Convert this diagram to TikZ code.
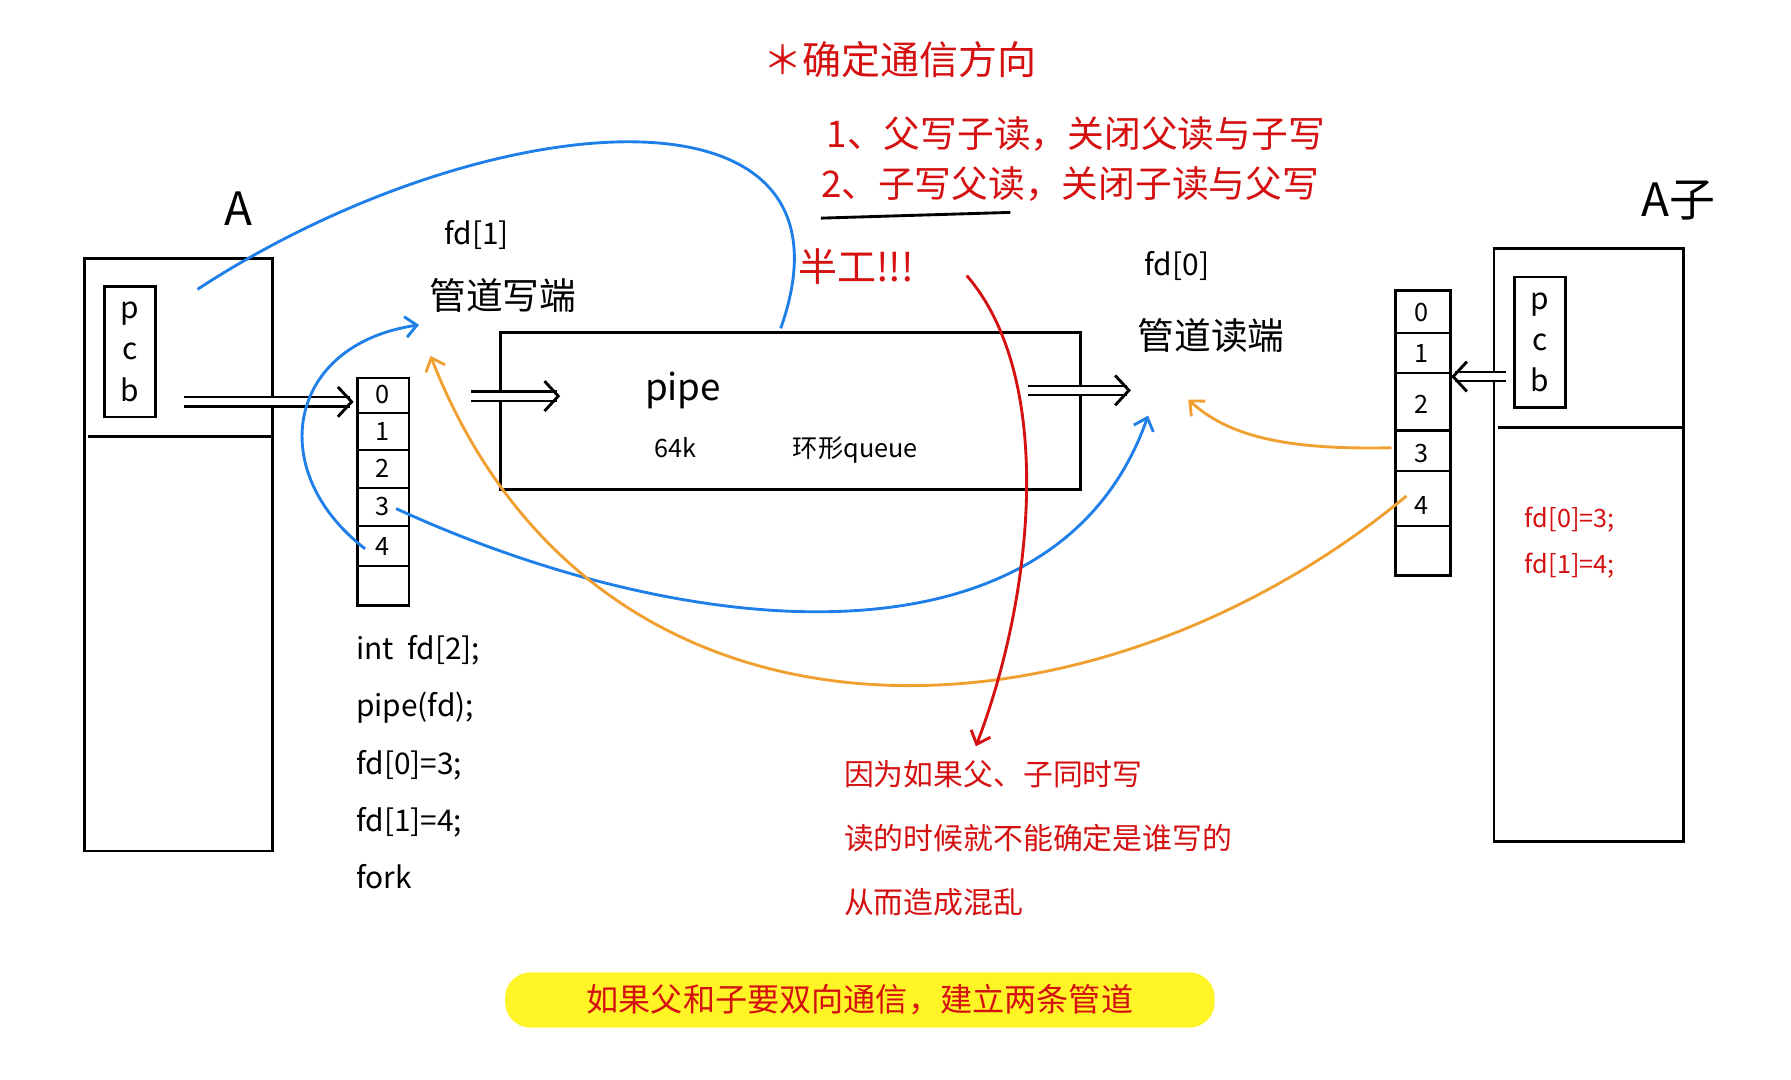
\documentclass[tikz,border=0pt]{standalone}
\usepackage{fontspec}
\setmainfont{Noto Sans CJK SC}
\usetikzlibrary{arrows.meta}
\definecolor{hblue}{HTML}{1E7FE8}
\definecolor{horange}{HTML}{F0A030}
\definecolor{hred}{HTML}{D41010}
\begin{document}
\begin{tikzpicture}[x=1pt,y=-1pt,
  box/.style={draw,line width=2.5pt},
  bl/.style={draw=hblue,line width=2.5pt},
  ol/.style={draw=horange,line width=2.5pt},
  rl/.style={draw=hred,line width=2.5pt},
  dbl/.style={double,double distance=6pt,line width=2pt,-{Straight Barb[length=12pt,width=26pt,line width=2.5pt]}},
  t/.style={font=\fontsize{26}{30}\selectfont,inner sep=0pt},
  rt/.style={t,text=hred},
  >={Straight Barb[length=10pt,width=18pt,line width=2.5pt]}]
\useasboundingbox (0,0) rectangle (1560,940);
% left process A
\node[box,minimum width=164pt,minimum height=516pt,anchor=north west] (A) at (72,224) {};
\draw[line width=2.5pt] (77,380) -- (236,380);
\node[box,minimum width=44pt,minimum height=114pt,anchor=north west,align=center,font=\fontsize{26}{36}\selectfont,inner sep=0pt] (pcbA) at (90,248) {p\\c\\b};
\node[t,font=\fontsize{40}{40}\selectfont] (Alab) at (208,182) {A};
% left fd table
\node[box,minimum width=45pt,minimum height=198pt,anchor=north west] (fdL) at (310,328) {};
\foreach \y/\l in {344/0,376/1,408/2,441/3,476/4}{\node[t,font=\fontsize{22}{22}\selectfont] at (333,\y) {\l};}
\foreach \y in {360,392,425,458,493}{\draw[line width=2pt] (310,\y) -- (355,\y);}
\coordinate (a1) at (160,350); \coordinate (a2) at (308,350);
\draw[dbl] (a1) -- (a2);
% pipe
\node[box,minimum width=505pt,minimum height=137pt,anchor=north west] (pipe) at (435,288) {};
\coordinate (p1) at (410,345); \coordinate (p2) at (488,345);
\draw[dbl] (p1) -- (p2);
\coordinate (p3) at (895,340); \coordinate (p4) at (985,340);
\draw[dbl] (p3) -- (p4);
\node[t,font=\fontsize{32}{32}\selectfont] (pipet) at (595,340) {pipe};
\node[t,font=\fontsize{22}{22}\selectfont] (k64) at (588,390) {64k};
\node[t,font=\fontsize{22}{22}\selectfont] (ring) at (745,392) {环形queue};
\node[t] (fd1) at (415,205) {fd[1]};
\node[t,font=\fontsize{32}{32}\selectfont] (wend) at (438,257) {管道写端};
\node[t] (fd0) at (1025,232) {fd[0]};
\node[t,font=\fontsize{32}{32}\selectfont] (rend) at (1055,292) {管道读端};
% right process
\node[box,minimum width=165pt,minimum height=517pt,anchor=north west] (B) at (1300,215) {};
\draw[line width=2.5pt] (1305,372) -- (1465,372);
\node[box,minimum width=44pt,minimum height=114pt,anchor=north west,align=center,font=\fontsize{26}{36}\selectfont,inner sep=0pt] (pcbB) at (1318,240) {p\\c\\b};
\node[t,font=\fontsize{40}{40}\selectfont] (Blab) at (1462,175) {A子};
\node[box,minimum width=48pt,minimum height=248pt,anchor=north west] (fdR) at (1214,252) {};
\foreach \y/\l in {272/0,308/1,352/2,395/3,440/4}{\node[t,font=\fontsize{22}{22}\selectfont] at (1238,\y) {\l};}
\foreach \y in {290,325,375,410,458}{\draw[line width=2pt] (1214,\y) -- (1262,\y);}
\coordinate (b1) at (1312,328); \coordinate (b2) at (1264,328);
\draw[dbl] (b1) -- (b2);
\node[rt,anchor=west,align=left,font=\fontsize{22}{40}\selectfont] (rcode) at (1328,473) {fd[0]=3;\\fd[1]=4;};
% code
\node[t,anchor=north west,align=left,font=\fontsize{26}{50}\selectfont] (code) at (310,553) {int\ \ fd[2];\\pipe(fd);\\fd[0]=3;\\fd[1]=4;\\fork};
% blue curves
\coordinate (c1) at (172,252); \coordinate (c2) at (680,286);
\draw[bl] (c1) .. controls (420,90) and (760,60) .. (c2);
\coordinate (c3) at (318,478); \coordinate (c4) at (365,283);
\draw[bl,->] (c3) .. controls (230,410) and (250,300) .. (c4);
\coordinate (c5) at (345,443); \coordinate (c6) at (1000,362);
\draw[bl,->] (c5) .. controls (600,560) and (920,590) .. (c6);
% orange curves
\coordinate (o1) at (1212,390); \coordinate (o2) at (1035,348);
\draw[ol,->] (o1) .. controls (1120,392) and (1070,380) .. (o2);
\coordinate (o3) at (1225,432); \coordinate (o4) at (375,310);
\draw[ol,->] (o3) .. controls (950,660) and (520,680) .. (o4);
% red annotations
\node[rt,font=\fontsize{34}{34}\selectfont,anchor=west] (title) at (665,52) {＊确定通信方向};
\node[rt,font=\fontsize{32}{32}\selectfont,anchor=west] (l1) at (720,117) {1、父写子读，关闭父读与子写};
\node[rt,font=\fontsize{32}{32}\selectfont,anchor=west] (l2) at (715,160) {2、子写父读，关闭子读与父写};
\coordinate (u1) at (715,190); \coordinate (u2) at (880,185);
\draw[line width=2.5pt] (u1) -- (u2);
\node[rt,font=\fontsize{34}{34}\selectfont,anchor=west] (half) at (695,232) {半工!!!};
\coordinate (r1) at (842,240); \coordinate (r2) at (850,650);
\draw[rl,->] (r1) .. controls (920,330) and (900,520) .. (r2);
\node[rt,anchor=north west,align=left,font=\fontsize{26}{56}\selectfont] (why) at (735,662) {因为如果父、子同时写\\读的时候就不能确定是谁写的\\从而造成混乱};
% banner
\node[fill=yellow!85!white,rounded corners=22pt,minimum width=618pt,minimum height=48pt,text=hred,font=\fontsize{28}{28}\selectfont] (ban) at (749,871) {如果父和子要双向通信，建立两条管道};
\end{tikzpicture}
\end{document}
